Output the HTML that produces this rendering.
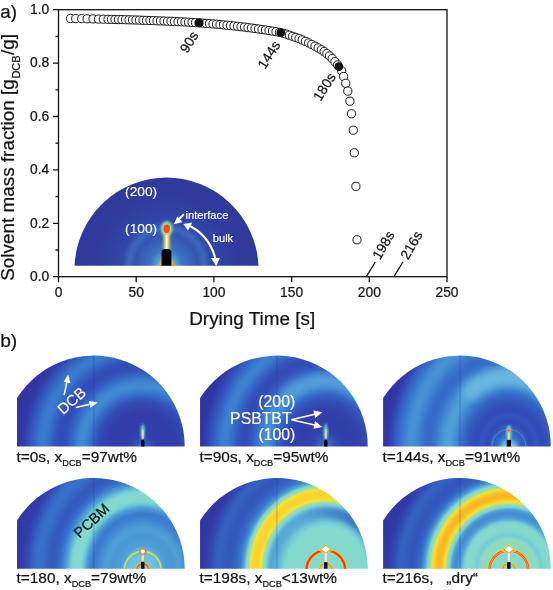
<!DOCTYPE html>
<html><head><meta charset="utf-8"><title>Figure</title>
<style>html,body{margin:0;padding:0;background:#fff}svg{display:block}text{font-family:"Liberation Sans", Arial, Helvetica, sans-serif;stroke:#111;stroke-width:.22px}.w text,text.w{stroke:#fff;stroke-width:.15px}</style>
</head><body>
<svg width="553" height="590" viewBox="0 0 553 590" font-family='"Liberation Sans", Arial, Helvetica, sans-serif' fill="#111"><rect x="58.5" y="9.7" width="388.5" height="267.0" fill="none" stroke="#111" stroke-width="1.3"/>
<text x="49.3" y="281.00" text-anchor="end" font-size="13.8">0.0</text>
<text x="49.3" y="227.60" text-anchor="end" font-size="13.8">0.2</text>
<text x="49.3" y="174.20" text-anchor="end" font-size="13.8">0.4</text>
<text x="49.3" y="120.80" text-anchor="end" font-size="13.8">0.6</text>
<text x="49.3" y="67.40" text-anchor="end" font-size="13.8">0.8</text>
<text x="49.3" y="14.00" text-anchor="end" font-size="13.8">1.0</text>
<text x="58.50" y="296.6" text-anchor="middle" font-size="13.8">0</text>
<text x="136.20" y="296.6" text-anchor="middle" font-size="13.8">50</text>
<text x="213.90" y="296.6" text-anchor="middle" font-size="13.8">100</text>
<text x="291.60" y="296.6" text-anchor="middle" font-size="13.8">150</text>
<text x="369.30" y="296.6" text-anchor="middle" font-size="13.8">200</text>
<text x="447.00" y="296.6" text-anchor="middle" font-size="13.8">250</text>
<path d="M58.5 276.70h-5.5 M58.5 223.30h-5.5 M58.5 169.90h-5.5 M58.5 116.50h-5.5 M58.5 63.10h-5.5 M58.5 9.70h-5.5 M58.5 250.00h-3 M58.5 196.60h-3 M58.5 143.20h-3 M58.5 89.80h-3 M58.5 36.40h-3 M58.50 276.7v5.5 M136.20 276.7v5.5 M213.90 276.7v5.5 M291.60 276.7v5.5 M369.30 276.7v5.5 M447.00 276.7v5.5" stroke="#111" stroke-width="1.3" fill="none"/>
<g fill="#fff" stroke="#1a1a1a" stroke-width="1"><circle cx="70.6" cy="18.5" r="4.1"/><circle cx="75.7" cy="18.6" r="4.1"/><circle cx="81.7" cy="18.7" r="4.1"/><circle cx="87.1" cy="18.8" r="4.1"/><circle cx="93.1" cy="18.9" r="4.1"/><circle cx="98.5" cy="19.1" r="4.1"/><circle cx="103.4" cy="19.2" r="4.1"/><circle cx="108.0" cy="19.3" r="4.1"/><circle cx="111.5" cy="19.4" r="4.1"/><circle cx="115.0" cy="19.5" r="4.1"/><circle cx="118.5" cy="19.6" r="4.1"/><circle cx="122.0" cy="19.6" r="4.1"/><circle cx="125.5" cy="19.7" r="4.1"/><circle cx="129.0" cy="19.8" r="4.1"/><circle cx="132.5" cy="19.9" r="4.1"/><circle cx="136.0" cy="20.0" r="4.1"/><circle cx="139.5" cy="20.1" r="4.1"/><circle cx="143.0" cy="20.3" r="4.1"/><circle cx="146.5" cy="20.4" r="4.1"/><circle cx="150.0" cy="20.5" r="4.1"/><circle cx="153.5" cy="20.6" r="4.1"/><circle cx="157.0" cy="20.8" r="4.1"/><circle cx="160.5" cy="20.9" r="4.1"/><circle cx="164.0" cy="21.0" r="4.1"/><circle cx="167.5" cy="21.2" r="4.1"/><circle cx="171.0" cy="21.3" r="4.1"/><circle cx="174.5" cy="21.5" r="4.1"/><circle cx="178.0" cy="21.7" r="4.1"/><circle cx="181.5" cy="21.8" r="4.1"/><circle cx="185.0" cy="22.0" r="4.1"/><circle cx="188.5" cy="22.2" r="4.1"/><circle cx="192.0" cy="22.4" r="4.1"/><circle cx="195.5" cy="22.6" r="4.1"/><circle cx="199.0" cy="22.8" r="4.1"/><circle cx="202.5" cy="23.1" r="4.1"/><circle cx="206.0" cy="23.3" r="4.1"/><circle cx="209.5" cy="23.6" r="4.1"/><circle cx="213.0" cy="23.9" r="4.1"/><circle cx="216.5" cy="24.2" r="4.1"/><circle cx="220.0" cy="24.5" r="4.1"/><circle cx="223.5" cy="24.9" r="4.1"/><circle cx="227.0" cy="25.2" r="4.1"/><circle cx="230.5" cy="25.6" r="4.1"/><circle cx="234.0" cy="25.9" r="4.1"/><circle cx="237.5" cy="26.3" r="4.1"/><circle cx="241.0" cy="26.7" r="4.1"/><circle cx="244.5" cy="27.1" r="4.1"/><circle cx="248.0" cy="27.6" r="4.1"/><circle cx="251.5" cy="28.0" r="4.1"/><circle cx="255.0" cy="28.5" r="4.1"/><circle cx="258.5" cy="29.0" r="4.1"/><circle cx="262.0" cy="29.5" r="4.1"/><circle cx="265.5" cy="30.0" r="4.1"/><circle cx="269.0" cy="30.5" r="4.1"/><circle cx="272.5" cy="31.1" r="4.1"/><circle cx="276.0" cy="31.7" r="4.1"/><circle cx="279.5" cy="32.4" r="4.1"/><circle cx="283.0" cy="33.2" r="4.1"/><circle cx="286.2" cy="34.1" r="4.1"/><circle cx="289.4" cy="35.2" r="4.1"/><circle cx="292.6" cy="36.3" r="4.1"/><circle cx="295.8" cy="37.4" r="4.1"/><circle cx="299.0" cy="38.6" r="4.1"/><circle cx="302.2" cy="39.9" r="4.1"/><circle cx="305.4" cy="41.3" r="4.1"/><circle cx="308.6" cy="42.9" r="4.1"/><circle cx="311.8" cy="44.5" r="4.1"/><circle cx="315.0" cy="46.2" r="4.1"/><circle cx="318.2" cy="47.9" r="4.1"/><circle cx="321.4" cy="49.8" r="4.1"/><circle cx="324.1" cy="51.6" r="4.1"/><circle cx="326.8" cy="53.6" r="4.1"/><circle cx="329.5" cy="55.9" r="4.1"/><circle cx="332.2" cy="58.6" r="4.1"/><circle cx="334.9" cy="61.7" r="4.1"/><circle cx="337.6" cy="64.9" r="4.1"/><circle cx="341.7" cy="71.0" r="4.1"/><circle cx="343.6" cy="76.5" r="4.1"/><circle cx="345.8" cy="83.3" r="4.1"/><circle cx="347.8" cy="91.1" r="4.1"/><circle cx="349.9" cy="101.2" r="4.1"/><circle cx="351.5" cy="113.8" r="4.1"/><circle cx="353.3" cy="130.2" r="4.1"/><circle cx="354.3" cy="152.8" r="4.1"/><circle cx="355.9" cy="186.4" r="4.1"/><circle cx="357.0" cy="239.8" r="4.1"/></g>
<circle cx="199.2" cy="22.9" r="4.4" fill="#111"/>
<circle cx="280.8" cy="32.7" r="4.4" fill="#111"/>
<circle cx="338.9" cy="66.6" r="4.4" fill="#111"/>
<text transform="translate(187.2,54) rotate(-58)" font-size="13.8" text-anchor="start" fill="#111">90s</text>
<text transform="translate(265,70) rotate(-58)" font-size="13.8" text-anchor="start" fill="#111">144s</text>
<text transform="translate(320.5,102) rotate(-58)" font-size="13.8" text-anchor="start" fill="#111">180s</text>
<text transform="translate(380,260.5) rotate(-60)" font-size="13.8" text-anchor="start" fill="#111">198s</text>
<text transform="translate(408,260.5) rotate(-60)" font-size="13.8" text-anchor="start" fill="#111">216s</text>
<path d="M366.3 276.7L375.3 262M393.9 276.7L402.9 262" stroke="#111" stroke-width="1.3" fill="none"/>
<text x="252.2" y="325.3" text-anchor="middle" font-size="18.9">Drying Time [s]</text>
<text transform="translate(14.0,280.8) rotate(-90)" font-size="18.9">Solvent mass fraction [g<tspan font-size="11" dy="6.4" dx="0.6">DCB</tspan><tspan dy="-6.4" dx="0.3">/g]</tspan></text>
<text x="0.2" y="17.9" font-size="18.8">a)</text>
<text x="0.2" y="346.8" font-size="19.2">b)</text>
<defs><clipPath id="ci"><path d="M74.58 265.7A92.0 92.0 0 0 1 258.42 265.7Z"/></clipPath><filter id="b1" x="-20%" y="-20%" width="140%" height="140%"><feGaussianBlur stdDeviation="1"/></filter><filter id="b2" x="-20%" y="-20%" width="140%" height="140%"><feGaussianBlur stdDeviation="2"/></filter><filter id="b4" x="-30%" y="-30%" width="160%" height="160%"><feGaussianBlur stdDeviation="4"/></filter><filter id="b05" x="-20%" y="-20%" width="140%" height="140%"><feGaussianBlur stdDeviation="0.6"/></filter><radialGradient id="gi" gradientUnits="userSpaceOnUse" cx="166.5" cy="266" r="95"><stop offset="0" stop-color="#a8e4e0"/><stop offset="0.07" stop-color="#5cb4dc"/><stop offset="0.17" stop-color="#3c74c4"/><stop offset="0.33" stop-color="#3454b2"/><stop offset="0.40" stop-color="#3e68bc"/><stop offset="0.47" stop-color="#3148a8"/><stop offset="0.7" stop-color="#303c9e"/><stop offset="1" stop-color="#2e3898"/></radialGradient></defs>
<g clip-path="url(#ci)">
<rect x="70" y="170" width="195" height="100" fill="url(#gi)"/>
<g filter="url(#b1)"><ellipse cx="166.7" cy="229" rx="6" ry="8" fill="#6fd6d0"/><rect x="163.4" y="230" width="6.6" height="20" fill="#8fe08f"/></g>
<g filter="url(#b05)"><ellipse cx="166.7" cy="229" rx="4.2" ry="5.8" fill="#f2c832"/><rect x="164.5" y="231" width="4.4" height="19" fill="#f2c050"/><ellipse cx="166.7" cy="228.8" rx="3.2" ry="4.2" fill="#e8502a"/><rect x="165.7" y="235" width="2" height="15" fill="#fff4e8"/><path d="M158 266l3.2-6.5 1.8 6.5zM175.4 266l-3.2-6.5-1.8 6.5z" fill="#f6a030"/></g>
<path d="M161.6 266V252Q162.2 249 165 248.9H168Q170.8 249 171.4 252V266Z" fill="#05050a"/>
<g class="w" fill="#fff" font-size="13.7"><text x="125.1" y="195.6">(200)</text><text x="125.1" y="233.3">(100)</text></g>
<g class="w" fill="#fff" font-size="11.2"><text x="185.5" y="218.7">interface</text><text x="212.7" y="242">bulk</text></g>
<g stroke="#fff" fill="#fff" stroke-width="2"><path d="M183.9 214.3L178.5 219.5" fill="none"/><path d="M173.7 224.2L177.5 216.6L182.3 222.3Z" stroke="none"/><path d="M190 226A51 51 0 0 1 215.3 258.5" fill="none" stroke-width="2.1"/><path d="M183.3 223.9L192.4 222.6L188 230.4Z" stroke="none"/><path d="M216.3 266L211 258L219.9 258Z" stroke="none"/></g>
</g>
<radialGradient id="rg1" gradientUnits="userSpaceOnUse" cx="0" cy="0" r="150.0" gradientTransform="translate(142.75,446.4) scale(1,1.000)"><stop offset="0.0000" stop-color="#3565c5"/><stop offset="0.0067" stop-color="#3564c4"/><stop offset="0.0133" stop-color="#3563c3"/><stop offset="0.0200" stop-color="#3460c2"/><stop offset="0.0267" stop-color="#345cc0"/><stop offset="0.0333" stop-color="#3358be"/><stop offset="0.0400" stop-color="#3253bc"/><stop offset="0.0467" stop-color="#324fb9"/><stop offset="0.0533" stop-color="#324cb6"/><stop offset="0.0600" stop-color="#3249b4"/><stop offset="0.0667" stop-color="#3246b1"/><stop offset="0.0733" stop-color="#3244b0"/><stop offset="0.0800" stop-color="#3242ae"/><stop offset="0.0867" stop-color="#3241ad"/><stop offset="0.0933" stop-color="#3240ac"/><stop offset="0.1000" stop-color="#323fab"/><stop offset="0.1067" stop-color="#323fab"/><stop offset="0.1133" stop-color="#323eab"/><stop offset="0.1200" stop-color="#323eaa"/><stop offset="0.1267" stop-color="#323eaa"/><stop offset="0.1333" stop-color="#323eaa"/><stop offset="0.1400" stop-color="#323eaa"/><stop offset="0.1467" stop-color="#323eaa"/><stop offset="0.1533" stop-color="#323eaa"/><stop offset="0.1600" stop-color="#323eaa"/><stop offset="0.1667" stop-color="#323eaa"/><stop offset="0.1733" stop-color="#323eaa"/><stop offset="0.1800" stop-color="#323eaa"/><stop offset="0.1867" stop-color="#323eaa"/><stop offset="0.1933" stop-color="#323eaa"/><stop offset="0.2000" stop-color="#323eaa"/><stop offset="0.2067" stop-color="#323eab"/><stop offset="0.2133" stop-color="#323eab"/><stop offset="0.2200" stop-color="#323fab"/><stop offset="0.2267" stop-color="#323fab"/><stop offset="0.2333" stop-color="#3240ac"/><stop offset="0.2400" stop-color="#3240ac"/><stop offset="0.2467" stop-color="#3241ad"/><stop offset="0.2533" stop-color="#3242ae"/><stop offset="0.2600" stop-color="#3243af"/><stop offset="0.2667" stop-color="#3244b0"/><stop offset="0.2733" stop-color="#3246b1"/><stop offset="0.2800" stop-color="#3247b3"/><stop offset="0.2867" stop-color="#3249b4"/><stop offset="0.2933" stop-color="#324cb6"/><stop offset="0.3000" stop-color="#324eb8"/><stop offset="0.3067" stop-color="#3251bb"/><stop offset="0.3133" stop-color="#3355bd"/><stop offset="0.3200" stop-color="#335abf"/><stop offset="0.3267" stop-color="#345ec1"/><stop offset="0.3333" stop-color="#3563c3"/><stop offset="0.3400" stop-color="#3567c6"/><stop offset="0.3467" stop-color="#366cc8"/><stop offset="0.3533" stop-color="#3771ca"/><stop offset="0.3600" stop-color="#3875cc"/><stop offset="0.3667" stop-color="#3a7ace"/><stop offset="0.3733" stop-color="#3d7ecf"/><stop offset="0.3800" stop-color="#3f82d0"/><stop offset="0.3867" stop-color="#4085d0"/><stop offset="0.3933" stop-color="#4287d1"/><stop offset="0.4000" stop-color="#4289d1"/><stop offset="0.4067" stop-color="#4389d2"/><stop offset="0.4133" stop-color="#4289d1"/><stop offset="0.4200" stop-color="#4287d1"/><stop offset="0.4267" stop-color="#4085d0"/><stop offset="0.4333" stop-color="#3f82d0"/><stop offset="0.4400" stop-color="#3d7fcf"/><stop offset="0.4467" stop-color="#3a7ace"/><stop offset="0.4533" stop-color="#3876cc"/><stop offset="0.4600" stop-color="#3771ca"/><stop offset="0.4667" stop-color="#366cc8"/><stop offset="0.4733" stop-color="#3568c6"/><stop offset="0.4800" stop-color="#3563c4"/><stop offset="0.4867" stop-color="#345fc2"/><stop offset="0.4933" stop-color="#345bc0"/><stop offset="0.5000" stop-color="#3357be"/><stop offset="0.5067" stop-color="#3354bc"/><stop offset="0.5133" stop-color="#3251bb"/><stop offset="0.5200" stop-color="#324fb9"/><stop offset="0.5267" stop-color="#324eb8"/><stop offset="0.5333" stop-color="#324db7"/><stop offset="0.5400" stop-color="#324db7"/><stop offset="0.5467" stop-color="#324db7"/><stop offset="0.5533" stop-color="#324db7"/><stop offset="0.5600" stop-color="#324eb8"/><stop offset="0.5667" stop-color="#3250ba"/><stop offset="0.5733" stop-color="#3252bb"/><stop offset="0.5800" stop-color="#3355bc"/><stop offset="0.5867" stop-color="#3358be"/><stop offset="0.5933" stop-color="#345bc0"/><stop offset="0.6000" stop-color="#345fc2"/><stop offset="0.6133" stop-color="#3567c5"/><stop offset="0.6267" stop-color="#366ec9"/><stop offset="0.6400" stop-color="#3775cc"/><stop offset="0.6533" stop-color="#3a79cd"/><stop offset="0.6667" stop-color="#3b7bce"/><stop offset="0.6800" stop-color="#3a79cd"/><stop offset="0.6933" stop-color="#3774cc"/><stop offset="0.7067" stop-color="#366ec9"/><stop offset="0.7200" stop-color="#3566c5"/><stop offset="0.7333" stop-color="#345ec1"/><stop offset="0.7467" stop-color="#3356bd"/><stop offset="0.7600" stop-color="#324eb8"/><stop offset="0.7733" stop-color="#3247b2"/><stop offset="0.7867" stop-color="#3240ac"/><stop offset="0.8000" stop-color="#323ba7"/><stop offset="0.8133" stop-color="#3238a3"/><stop offset="0.8267" stop-color="#3136a1"/><stop offset="0.8400" stop-color="#3136a0"/><stop offset="0.8533" stop-color="#31359f"/><stop offset="0.8667" stop-color="#31359f"/><stop offset="0.8800" stop-color="#31359e"/><stop offset="0.8933" stop-color="#31359e"/><stop offset="0.9067" stop-color="#31359e"/><stop offset="0.9200" stop-color="#31359e"/><stop offset="0.9333" stop-color="#31359e"/><stop offset="0.9467" stop-color="#31359e"/><stop offset="0.9600" stop-color="#31359e"/><stop offset="0.9733" stop-color="#31359e"/><stop offset="0.9867" stop-color="#31359e"/><stop offset="1.0000" stop-color="#31359e"/></radialGradient>
<clipPath id="cp1"><path d="M17.0 446.4L17.0 398.12A90.8 90.8 0 0 1 184.70 446.4Z"/></clipPath>
<g clip-path="url(#cp1)">
<rect x="16.0" y="353.4" width="170.7" height="94" fill="url(#rg1)"/>
<path d="M93.9 351.4V446.4" stroke="#2a3690" stroke-width="0.6" opacity="0.55"/>
<ellipse cx="142.75" cy="431.9" rx="2.1" ry="8" fill="#62cce2" filter="url(#b1)"/><g filter="url(#b05)"><ellipse cx="142.75" cy="433.9" rx="1.1" ry="5" fill="#c8e890"/><ellipse cx="142.75" cy="435.4" rx="0.7" ry="2.6" fill="#f4c8b0"/></g>
<path d="M141.05 446.9V441.79999999999995Q141.05 439.79999999999995 142.75 439.79999999999995Q144.45 439.79999999999995 144.45 441.79999999999995V446.9Z" fill="#05050a"/>
<text transform="translate(62.95,415.2) rotate(-41)" font-size="15.2" fill="#fff" class="w">DCB</text>
<g stroke="#fff" stroke-width="1.5" fill="#fff"><path d="M64.15 395.2L66.95 381.4" fill="none"/><path d="M68.15 374.4L70.45 383.2L63.75 381.79999999999995Z" stroke="none"/><path d="M75.95 407.5L89.75 404.2" fill="none"/><path d="M97.65 402.4L90.45 407.7L88.85 400.9Z" stroke="none"/></g>
</g>
<radialGradient id="rg2" gradientUnits="userSpaceOnUse" cx="0" cy="0" r="150.0" gradientTransform="translate(325.80,446.4) scale(1,1.070)"><stop offset="0.0000" stop-color="#3670ca"/><stop offset="0.0067" stop-color="#366fc9"/><stop offset="0.0133" stop-color="#366dc9"/><stop offset="0.0200" stop-color="#366bc7"/><stop offset="0.0267" stop-color="#3567c6"/><stop offset="0.0333" stop-color="#3563c4"/><stop offset="0.0400" stop-color="#345fc1"/><stop offset="0.0467" stop-color="#335abf"/><stop offset="0.0533" stop-color="#3356bd"/><stop offset="0.0600" stop-color="#3251bb"/><stop offset="0.0667" stop-color="#324eb8"/><stop offset="0.0733" stop-color="#324bb5"/><stop offset="0.0800" stop-color="#3248b3"/><stop offset="0.0867" stop-color="#3246b1"/><stop offset="0.0933" stop-color="#3244b0"/><stop offset="0.1000" stop-color="#3243af"/><stop offset="0.1067" stop-color="#3242ae"/><stop offset="0.1133" stop-color="#3241ad"/><stop offset="0.1200" stop-color="#3240ac"/><stop offset="0.1267" stop-color="#3240ac"/><stop offset="0.1333" stop-color="#323fac"/><stop offset="0.1400" stop-color="#323fab"/><stop offset="0.1467" stop-color="#323fab"/><stop offset="0.1533" stop-color="#323fab"/><stop offset="0.1600" stop-color="#323fab"/><stop offset="0.1667" stop-color="#323fab"/><stop offset="0.1733" stop-color="#323fab"/><stop offset="0.1800" stop-color="#323fab"/><stop offset="0.1867" stop-color="#323fac"/><stop offset="0.1933" stop-color="#3240ac"/><stop offset="0.2000" stop-color="#3240ac"/><stop offset="0.2067" stop-color="#3240ac"/><stop offset="0.2133" stop-color="#3241ad"/><stop offset="0.2200" stop-color="#3241ad"/><stop offset="0.2267" stop-color="#3242ae"/><stop offset="0.2333" stop-color="#3242ae"/><stop offset="0.2400" stop-color="#3243af"/><stop offset="0.2467" stop-color="#3244b0"/><stop offset="0.2533" stop-color="#3246b1"/><stop offset="0.2600" stop-color="#3247b2"/><stop offset="0.2667" stop-color="#3249b4"/><stop offset="0.2733" stop-color="#324bb6"/><stop offset="0.2800" stop-color="#324db7"/><stop offset="0.2867" stop-color="#324fba"/><stop offset="0.2933" stop-color="#3253bb"/><stop offset="0.3000" stop-color="#3357bd"/><stop offset="0.3067" stop-color="#345bbf"/><stop offset="0.3133" stop-color="#345fc2"/><stop offset="0.3200" stop-color="#3564c4"/><stop offset="0.3267" stop-color="#3568c6"/><stop offset="0.3333" stop-color="#366dc8"/><stop offset="0.3400" stop-color="#3772cb"/><stop offset="0.3467" stop-color="#3876cd"/><stop offset="0.3533" stop-color="#3b7cce"/><stop offset="0.3600" stop-color="#3e80cf"/><stop offset="0.3667" stop-color="#4084d0"/><stop offset="0.3733" stop-color="#4288d1"/><stop offset="0.3800" stop-color="#438bd2"/><stop offset="0.3867" stop-color="#448dd2"/><stop offset="0.3933" stop-color="#458ed3"/><stop offset="0.4000" stop-color="#458fd3"/><stop offset="0.4067" stop-color="#458ed3"/><stop offset="0.4133" stop-color="#448dd2"/><stop offset="0.4200" stop-color="#438bd2"/><stop offset="0.4267" stop-color="#4288d1"/><stop offset="0.4333" stop-color="#4084d0"/><stop offset="0.4400" stop-color="#3e80cf"/><stop offset="0.4467" stop-color="#3b7cce"/><stop offset="0.4533" stop-color="#3877cd"/><stop offset="0.4600" stop-color="#3772cb"/><stop offset="0.4667" stop-color="#366dc9"/><stop offset="0.4733" stop-color="#3569c6"/><stop offset="0.4800" stop-color="#3564c4"/><stop offset="0.4867" stop-color="#3460c2"/><stop offset="0.4933" stop-color="#345cc0"/><stop offset="0.5000" stop-color="#3358be"/><stop offset="0.5067" stop-color="#3355bd"/><stop offset="0.5133" stop-color="#3252bb"/><stop offset="0.5200" stop-color="#3250ba"/><stop offset="0.5267" stop-color="#324eb9"/><stop offset="0.5333" stop-color="#324db8"/><stop offset="0.5400" stop-color="#324db7"/><stop offset="0.5467" stop-color="#324db7"/><stop offset="0.5533" stop-color="#324db8"/><stop offset="0.5600" stop-color="#324eb8"/><stop offset="0.5667" stop-color="#324fb9"/><stop offset="0.5733" stop-color="#3251bb"/><stop offset="0.5800" stop-color="#3354bc"/><stop offset="0.5867" stop-color="#3357bd"/><stop offset="0.5933" stop-color="#335abf"/><stop offset="0.6000" stop-color="#345ec1"/><stop offset="0.6133" stop-color="#3566c5"/><stop offset="0.6267" stop-color="#366fc9"/><stop offset="0.6400" stop-color="#3876cd"/><stop offset="0.6533" stop-color="#3c7dce"/><stop offset="0.6667" stop-color="#3e80cf"/><stop offset="0.6800" stop-color="#3e80cf"/><stop offset="0.6933" stop-color="#3c7cce"/><stop offset="0.7067" stop-color="#3876cc"/><stop offset="0.7200" stop-color="#366ec9"/><stop offset="0.7333" stop-color="#3566c5"/><stop offset="0.7467" stop-color="#345dc0"/><stop offset="0.7600" stop-color="#3355bc"/><stop offset="0.7733" stop-color="#324db7"/><stop offset="0.7867" stop-color="#3246b1"/><stop offset="0.8000" stop-color="#3240ac"/><stop offset="0.8133" stop-color="#323aa7"/><stop offset="0.8267" stop-color="#3137a2"/><stop offset="0.8400" stop-color="#3136a0"/><stop offset="0.8533" stop-color="#31369f"/><stop offset="0.8667" stop-color="#31359f"/><stop offset="0.8800" stop-color="#31359e"/><stop offset="0.8933" stop-color="#31359e"/><stop offset="0.9067" stop-color="#31359e"/><stop offset="0.9200" stop-color="#31359e"/><stop offset="0.9333" stop-color="#31359e"/><stop offset="0.9467" stop-color="#31359e"/><stop offset="0.9600" stop-color="#31359e"/><stop offset="0.9733" stop-color="#31359e"/><stop offset="0.9867" stop-color="#31359e"/><stop offset="1.0000" stop-color="#31359e"/></radialGradient>
<clipPath id="cp2"><path d="M200.05 446.4L200.05 398.12A90.8 90.8 0 0 1 367.75 446.4Z"/></clipPath>
<g clip-path="url(#cp2)">
<rect x="199.05" y="353.4" width="170.7" height="94" fill="url(#rg2)"/>
<linearGradient id="og2_62" gradientUnits="userSpaceOnUse" x1="303.8" y1="0" x2="353.8" y2="0"><stop offset="0" stop-color="#6eb4e0" stop-opacity="0"/><stop offset="1" stop-color="#6eb4e0" stop-opacity="1"/></linearGradient>
<path d="M377.8 410.0 L374.0 404.5 L369.7 399.4 L364.8 394.7 L359.4 390.5 L353.5 387.0 L347.2 384.1 L340.7 382.0 L333.9 380.6 L327.0 380.1 L320.0 380.3 L313.2 381.4 L306.5 383.3 L300.1 385.9 L294.1 389.3 L288.6 393.2" fill="none" stroke="#6eb4e0" stroke-width="13" stroke-linecap="round" opacity="0.45" filter="url(#b4)"/>
<path d="M276.95000000000005 351.4V446.4" stroke="#2a3690" stroke-width="0.6" opacity="0.55"/>
<ellipse cx="325.8" cy="431.9" rx="2.1" ry="8" fill="#62cce2" filter="url(#b1)"/><g filter="url(#b05)"><ellipse cx="325.8" cy="433.9" rx="1.1" ry="5" fill="#d8e070"/><ellipse cx="325.8" cy="435.4" rx="0.7" ry="2.6" fill="#f4c8b0"/></g>
<path d="M324.1 446.9V441.79999999999995Q324.1 439.79999999999995 325.8 439.79999999999995Q327.5 439.79999999999995 327.5 441.79999999999995V446.9Z" fill="#05050a"/>
<g class="w" fill="#fff" font-size="15.8"><text x="258.3" y="406.5">(200)</text><text x="230.10000000000002" y="423.59999999999997">PSBTBT</text><text x="258.5" y="439.7">(100)</text></g>
<g stroke="#fff" stroke-width="1.5" fill="#fff"><path d="M315.8 414.0L291.3 419.7L315.8 425.2" fill="none"/><path d="M322.40000000000003 412.2L315.2 418.0L313.40000000000003 410.5Z" stroke="none"/><path d="M322.40000000000003 427.0L313.40000000000003 428.7L315.2 421.2Z" stroke="none"/></g>
</g>
<radialGradient id="rg3" gradientUnits="userSpaceOnUse" cx="0" cy="0" r="150.0" gradientTransform="translate(508.85,446.4) scale(1,1.130)"><stop offset="0.0000" stop-color="#5aadd7"/><stop offset="0.0067" stop-color="#58acd7"/><stop offset="0.0133" stop-color="#55a8d7"/><stop offset="0.0200" stop-color="#50a2d8"/><stop offset="0.0267" stop-color="#4d9dd7"/><stop offset="0.0333" stop-color="#4a96d5"/><stop offset="0.0400" stop-color="#468fd3"/><stop offset="0.0467" stop-color="#4187d1"/><stop offset="0.0533" stop-color="#3d7fcf"/><stop offset="0.0600" stop-color="#3977cd"/><stop offset="0.0667" stop-color="#3670ca"/><stop offset="0.0733" stop-color="#366ac7"/><stop offset="0.0800" stop-color="#3564c4"/><stop offset="0.0867" stop-color="#345fc2"/><stop offset="0.0933" stop-color="#345dc0"/><stop offset="0.1000" stop-color="#345dc0"/><stop offset="0.1067" stop-color="#345fc2"/><stop offset="0.1133" stop-color="#345fc2"/><stop offset="0.1200" stop-color="#335abf"/><stop offset="0.1267" stop-color="#3253bb"/><stop offset="0.1333" stop-color="#324eb8"/><stop offset="0.1400" stop-color="#324cb7"/><stop offset="0.1467" stop-color="#324cb7"/><stop offset="0.1533" stop-color="#324db7"/><stop offset="0.1600" stop-color="#324fb9"/><stop offset="0.1667" stop-color="#3251ba"/><stop offset="0.1733" stop-color="#3253bc"/><stop offset="0.1800" stop-color="#3354bc"/><stop offset="0.1867" stop-color="#3254bc"/><stop offset="0.1933" stop-color="#3252bb"/><stop offset="0.2000" stop-color="#324fb9"/><stop offset="0.2067" stop-color="#324eb8"/><stop offset="0.2133" stop-color="#324db7"/><stop offset="0.2200" stop-color="#324db7"/><stop offset="0.2267" stop-color="#324db8"/><stop offset="0.2333" stop-color="#324eb8"/><stop offset="0.2400" stop-color="#324fb9"/><stop offset="0.2467" stop-color="#3250ba"/><stop offset="0.2533" stop-color="#3252bb"/><stop offset="0.2600" stop-color="#3354bc"/><stop offset="0.2667" stop-color="#3356bd"/><stop offset="0.2733" stop-color="#3359be"/><stop offset="0.2800" stop-color="#345cc0"/><stop offset="0.2867" stop-color="#345fc1"/><stop offset="0.2933" stop-color="#3562c3"/><stop offset="0.3000" stop-color="#3566c5"/><stop offset="0.3067" stop-color="#366ac7"/><stop offset="0.3133" stop-color="#366ec9"/><stop offset="0.3200" stop-color="#3772cb"/><stop offset="0.3267" stop-color="#3876cd"/><stop offset="0.3333" stop-color="#3b7bce"/><stop offset="0.3400" stop-color="#3e80cf"/><stop offset="0.3467" stop-color="#4085d1"/><stop offset="0.3533" stop-color="#438ad2"/><stop offset="0.3600" stop-color="#458ed3"/><stop offset="0.3667" stop-color="#4792d4"/><stop offset="0.3733" stop-color="#4996d5"/><stop offset="0.3800" stop-color="#4b99d6"/><stop offset="0.3867" stop-color="#4c9bd6"/><stop offset="0.3933" stop-color="#4d9dd7"/><stop offset="0.4000" stop-color="#4e9ed7"/><stop offset="0.4067" stop-color="#4e9fd7"/><stop offset="0.4133" stop-color="#4e9ed7"/><stop offset="0.4200" stop-color="#4d9dd7"/><stop offset="0.4267" stop-color="#4d9cd6"/><stop offset="0.4333" stop-color="#4b99d6"/><stop offset="0.4400" stop-color="#4a97d5"/><stop offset="0.4467" stop-color="#4893d4"/><stop offset="0.4533" stop-color="#4690d3"/><stop offset="0.4600" stop-color="#448cd2"/><stop offset="0.4667" stop-color="#4288d1"/><stop offset="0.4733" stop-color="#3f83d0"/><stop offset="0.4800" stop-color="#3d7fcf"/><stop offset="0.4867" stop-color="#3b7bce"/><stop offset="0.4933" stop-color="#3977cd"/><stop offset="0.5000" stop-color="#3774cc"/><stop offset="0.5067" stop-color="#3771cb"/><stop offset="0.5133" stop-color="#366fca"/><stop offset="0.5200" stop-color="#366dc9"/><stop offset="0.5267" stop-color="#366cc8"/><stop offset="0.5333" stop-color="#366cc8"/><stop offset="0.5400" stop-color="#366bc8"/><stop offset="0.5467" stop-color="#366cc8"/><stop offset="0.5533" stop-color="#366dc8"/><stop offset="0.5600" stop-color="#366ec9"/><stop offset="0.5667" stop-color="#3670ca"/><stop offset="0.5733" stop-color="#3773cb"/><stop offset="0.5800" stop-color="#3875cc"/><stop offset="0.5867" stop-color="#3a79cd"/><stop offset="0.5933" stop-color="#3b7cce"/><stop offset="0.6000" stop-color="#3d80cf"/><stop offset="0.6133" stop-color="#4187d1"/><stop offset="0.6267" stop-color="#448cd2"/><stop offset="0.6400" stop-color="#4690d3"/><stop offset="0.6533" stop-color="#4791d4"/><stop offset="0.6667" stop-color="#468fd3"/><stop offset="0.6800" stop-color="#438bd2"/><stop offset="0.6933" stop-color="#4084d0"/><stop offset="0.7067" stop-color="#3b7cce"/><stop offset="0.7200" stop-color="#3773cb"/><stop offset="0.7333" stop-color="#366bc7"/><stop offset="0.7467" stop-color="#3563c4"/><stop offset="0.7600" stop-color="#335abf"/><stop offset="0.7733" stop-color="#324fb9"/><stop offset="0.7867" stop-color="#3246b1"/><stop offset="0.8000" stop-color="#323eaa"/><stop offset="0.8133" stop-color="#3238a5"/><stop offset="0.8267" stop-color="#3136a1"/><stop offset="0.8400" stop-color="#3136a0"/><stop offset="0.8533" stop-color="#31369f"/><stop offset="0.8667" stop-color="#31359f"/><stop offset="0.8800" stop-color="#31359f"/><stop offset="0.8933" stop-color="#31359e"/><stop offset="0.9067" stop-color="#31359e"/><stop offset="0.9200" stop-color="#31359e"/><stop offset="0.9333" stop-color="#31359e"/><stop offset="0.9467" stop-color="#31359e"/><stop offset="0.9600" stop-color="#31359e"/><stop offset="0.9733" stop-color="#31359e"/><stop offset="0.9867" stop-color="#31359e"/><stop offset="1.0000" stop-color="#31359e"/></radialGradient>
<clipPath id="cp3"><path d="M383.1 446.4L383.1 398.12A90.8 90.8 0 0 1 550.80 446.4Z"/></clipPath>
<g clip-path="url(#cp3)">
<rect x="382.1" y="353.4" width="170.7" height="94" fill="url(#rg3)"/>
<linearGradient id="og3_62" gradientUnits="userSpaceOnUse" x1="486.85" y1="0" x2="536.85" y2="0"><stop offset="0" stop-color="#7cc4e6" stop-opacity="0"/><stop offset="1" stop-color="#7cc4e6" stop-opacity="1"/></linearGradient>
<path d="M561.8 409.3 L558.3 403.4 L554.1 397.9 L549.3 392.8 L543.8 388.2 L537.9 384.2 L531.4 381.0 L524.5 378.5 L517.4 377.0 L510.1 376.4 L502.7 376.7 L495.5 377.9 L488.6 380.1 L482.0 383.0 L475.8 386.8 L470.2 391.2" fill="none" stroke="#7cc4e6" stroke-width="18" stroke-linecap="round" opacity="0.65" filter="url(#b4)"/>
<path d="M460.0 351.4V446.4" stroke="#2a3690" stroke-width="0.6" opacity="0.55"/>
<ellipse cx="508.85" cy="445.9" rx="8" ry="4.5" fill="#86dcea" opacity="0.75" filter="url(#b2)"/>
<ellipse cx="508.85" cy="432.9" rx="2.6" ry="8" fill="#6cd4e4" filter="url(#b1)"/><g filter="url(#b05)"><rect x="507.95000000000005" y="431.4" width="1.8" height="9" fill="#f0e070"/><ellipse cx="508.85" cy="430.2" rx="1.9" ry="2.4" fill="#f49a30"/><ellipse cx="508.85" cy="430.2" rx="0.9" ry="1.2" fill="#f06028"/></g>
<rect x="506.70000000000005" y="439.9" width="4.3" height="7" fill="#05050a"/>
<path d="M491.85 446.4A17 17 0 0 1 525.85 446.4" fill="none" stroke="#a8d8f0" stroke-width="0.8" opacity="0.35"/>
</g>
<radialGradient id="rg4" gradientUnits="userSpaceOnUse" cx="0" cy="0" r="150.0" gradientTransform="translate(142.75,568.75) scale(1,1.090)"><stop offset="0.0000" stop-color="#72c8d4"/><stop offset="0.0067" stop-color="#72c8d5"/><stop offset="0.0133" stop-color="#71c8d5"/><stop offset="0.0200" stop-color="#71c7d5"/><stop offset="0.0267" stop-color="#71c7d5"/><stop offset="0.0333" stop-color="#70c7d5"/><stop offset="0.0400" stop-color="#70c6d5"/><stop offset="0.0467" stop-color="#6fc5d5"/><stop offset="0.0533" stop-color="#6fc5d5"/><stop offset="0.0600" stop-color="#6ec4d5"/><stop offset="0.0667" stop-color="#6dc3d5"/><stop offset="0.0733" stop-color="#6cc2d5"/><stop offset="0.0800" stop-color="#6bc1d5"/><stop offset="0.0867" stop-color="#6ac0d5"/><stop offset="0.0933" stop-color="#69bed5"/><stop offset="0.1000" stop-color="#68bdd6"/><stop offset="0.1067" stop-color="#66bad6"/><stop offset="0.1133" stop-color="#62b6d6"/><stop offset="0.1200" stop-color="#5db0d7"/><stop offset="0.1267" stop-color="#57aad7"/><stop offset="0.1333" stop-color="#52a5d8"/><stop offset="0.1400" stop-color="#4fa1d8"/><stop offset="0.1467" stop-color="#4e9ed7"/><stop offset="0.1533" stop-color="#4d9dd7"/><stop offset="0.1600" stop-color="#4d9cd6"/><stop offset="0.1667" stop-color="#4c9bd6"/><stop offset="0.1733" stop-color="#4b9ad6"/><stop offset="0.1800" stop-color="#4b99d6"/><stop offset="0.1867" stop-color="#4b98d5"/><stop offset="0.1933" stop-color="#4a98d5"/><stop offset="0.2000" stop-color="#4a97d5"/><stop offset="0.2067" stop-color="#4b98d5"/><stop offset="0.2133" stop-color="#4b99d6"/><stop offset="0.2200" stop-color="#4c9bd6"/><stop offset="0.2267" stop-color="#4d9dd7"/><stop offset="0.2333" stop-color="#4e9ed7"/><stop offset="0.2400" stop-color="#4e9ed7"/><stop offset="0.2467" stop-color="#4e9ed7"/><stop offset="0.2533" stop-color="#4d9cd6"/><stop offset="0.2600" stop-color="#4b9ad6"/><stop offset="0.2667" stop-color="#4a97d5"/><stop offset="0.2733" stop-color="#4893d4"/><stop offset="0.2800" stop-color="#4690d3"/><stop offset="0.2867" stop-color="#458dd3"/><stop offset="0.2933" stop-color="#4289d1"/><stop offset="0.3000" stop-color="#4085d0"/><stop offset="0.3067" stop-color="#3f82d0"/><stop offset="0.3133" stop-color="#3d80cf"/><stop offset="0.3200" stop-color="#3c7dce"/><stop offset="0.3267" stop-color="#3b7cce"/><stop offset="0.3333" stop-color="#3b7bce"/><stop offset="0.3400" stop-color="#3c7dce"/><stop offset="0.3467" stop-color="#3f83d0"/><stop offset="0.3533" stop-color="#4389d2"/><stop offset="0.3600" stop-color="#4690d3"/><stop offset="0.3667" stop-color="#4a98d5"/><stop offset="0.3733" stop-color="#4fa0d8"/><stop offset="0.3800" stop-color="#59acd7"/><stop offset="0.3867" stop-color="#63b8d6"/><stop offset="0.3933" stop-color="#6cc2d5"/><stop offset="0.4000" stop-color="#74cbd4"/><stop offset="0.4067" stop-color="#7cd3d3"/><stop offset="0.4133" stop-color="#80d8d3"/><stop offset="0.4200" stop-color="#82d8d0"/><stop offset="0.4267" stop-color="#83d9ce"/><stop offset="0.4333" stop-color="#84d9cc"/><stop offset="0.4400" stop-color="#84d9cb"/><stop offset="0.4467" stop-color="#84d9cc"/><stop offset="0.4533" stop-color="#83d9ce"/><stop offset="0.4600" stop-color="#82d8d0"/><stop offset="0.4667" stop-color="#80d8d3"/><stop offset="0.4733" stop-color="#7bd3d3"/><stop offset="0.4800" stop-color="#74cbd4"/><stop offset="0.4867" stop-color="#6cc1d5"/><stop offset="0.4933" stop-color="#63b8d6"/><stop offset="0.5000" stop-color="#5aadd7"/><stop offset="0.5067" stop-color="#50a1d8"/><stop offset="0.5133" stop-color="#4b99d6"/><stop offset="0.5200" stop-color="#4791d3"/><stop offset="0.5267" stop-color="#4289d1"/><stop offset="0.5333" stop-color="#3e81cf"/><stop offset="0.5400" stop-color="#3a7ace"/><stop offset="0.5467" stop-color="#3773cc"/><stop offset="0.5533" stop-color="#366ec9"/><stop offset="0.5600" stop-color="#3669c7"/><stop offset="0.5667" stop-color="#3565c4"/><stop offset="0.5733" stop-color="#3461c3"/><stop offset="0.5800" stop-color="#345ec1"/><stop offset="0.5867" stop-color="#345cc0"/><stop offset="0.5933" stop-color="#345bbf"/><stop offset="0.6000" stop-color="#335abf"/><stop offset="0.6133" stop-color="#3359be"/><stop offset="0.6267" stop-color="#345cc0"/><stop offset="0.6400" stop-color="#3562c3"/><stop offset="0.6533" stop-color="#3567c6"/><stop offset="0.6667" stop-color="#366cc8"/><stop offset="0.6800" stop-color="#366fca"/><stop offset="0.6933" stop-color="#3771ca"/><stop offset="0.7067" stop-color="#366fca"/><stop offset="0.7200" stop-color="#366bc7"/><stop offset="0.7333" stop-color="#3565c4"/><stop offset="0.7467" stop-color="#345cc0"/><stop offset="0.7600" stop-color="#3251ba"/><stop offset="0.7733" stop-color="#3249b4"/><stop offset="0.7867" stop-color="#3243af"/><stop offset="0.8000" stop-color="#323eaa"/><stop offset="0.8133" stop-color="#323ba8"/><stop offset="0.8267" stop-color="#323aa7"/><stop offset="0.8400" stop-color="#323aa7"/><stop offset="0.8533" stop-color="#3239a6"/><stop offset="0.8667" stop-color="#3239a5"/><stop offset="0.8800" stop-color="#3238a5"/><stop offset="0.8933" stop-color="#3238a4"/><stop offset="0.9067" stop-color="#3238a4"/><stop offset="0.9200" stop-color="#3238a3"/><stop offset="0.9333" stop-color="#3137a3"/><stop offset="0.9467" stop-color="#3137a2"/><stop offset="0.9600" stop-color="#3137a2"/><stop offset="0.9733" stop-color="#3137a2"/><stop offset="0.9867" stop-color="#3137a1"/><stop offset="1.0000" stop-color="#3137a1"/></radialGradient>
<clipPath id="cp4"><path d="M17.0 568.75L17.0 520.47A90.8 90.8 0 0 1 184.70 568.75Z"/></clipPath>
<g clip-path="url(#cp4)">
<rect x="16.0" y="475.75" width="170.7" height="94" fill="url(#rg4)"/>
<path d="M93.9 473.75V568.75" stroke="#2a3690" stroke-width="0.6" opacity="0.55"/>
<g filter="url(#b05)"><path d="M124.35 569.75A18.4 18.4 0 0 1 161.15 569.75" fill="none" stroke="#9be08a" stroke-width="2.2" opacity="0.8"/><path d="M124.35 569.75A18.4 18.4 0 0 1 161.15 569.75" fill="none" stroke="#e8e040" stroke-width="0.9" opacity="1"/><path d="M136.75 569.75A6 6 0 0 1 148.75 569.75" fill="none" stroke="#f6c040" stroke-width="3" opacity="1"/><path d="M136.75 569.75A6 6 0 0 1 148.75 569.75" fill="none" stroke="#e8502a" stroke-width="1.4" opacity="1"/><rect x="141.55" y="553.75" width="2.4" height="9" fill="#f8d8b0"/><circle cx="142.75" cy="551.55" r="3.6" fill="#f08030"/><circle cx="142.75" cy="551.55" r="2.1" fill="#fff"/></g>
<rect x="141.05" y="561.75" width="3.4" height="7.5" fill="#0a0a30"/>
<text transform="translate(79.55,538.75) rotate(-43)" font-size="14.6" fill="#111">PCBM</text>
</g>
<radialGradient id="rg5" gradientUnits="userSpaceOnUse" cx="0" cy="0" r="150.0" gradientTransform="translate(325.80,568.75) scale(1,1.060)"><stop offset="0.0000" stop-color="#83d9ce"/><stop offset="0.0067" stop-color="#83d9ce"/><stop offset="0.0133" stop-color="#83d9ce"/><stop offset="0.0200" stop-color="#83d9ce"/><stop offset="0.0267" stop-color="#83d9ce"/><stop offset="0.0333" stop-color="#83d9ce"/><stop offset="0.0400" stop-color="#83d9ce"/><stop offset="0.0467" stop-color="#83d9ce"/><stop offset="0.0533" stop-color="#83d9ce"/><stop offset="0.0600" stop-color="#83d9ce"/><stop offset="0.0667" stop-color="#83d9ce"/><stop offset="0.0733" stop-color="#83d9ce"/><stop offset="0.0800" stop-color="#83d9ce"/><stop offset="0.0867" stop-color="#83d9ce"/><stop offset="0.0933" stop-color="#83d9ce"/><stop offset="0.1000" stop-color="#83d9ce"/><stop offset="0.1067" stop-color="#83d9ce"/><stop offset="0.1133" stop-color="#83d9ce"/><stop offset="0.1200" stop-color="#83d9ce"/><stop offset="0.1267" stop-color="#83d9ce"/><stop offset="0.1333" stop-color="#83d9ce"/><stop offset="0.1400" stop-color="#83d9ce"/><stop offset="0.1467" stop-color="#83d9ce"/><stop offset="0.1533" stop-color="#83d9ce"/><stop offset="0.1600" stop-color="#83d9ce"/><stop offset="0.1667" stop-color="#83d9ce"/><stop offset="0.1733" stop-color="#83d9ce"/><stop offset="0.1800" stop-color="#83d9ce"/><stop offset="0.1867" stop-color="#83d9ce"/><stop offset="0.1933" stop-color="#83d9ce"/><stop offset="0.2000" stop-color="#83d9ce"/><stop offset="0.2067" stop-color="#83d9ce"/><stop offset="0.2133" stop-color="#83d9ce"/><stop offset="0.2200" stop-color="#83d9ce"/><stop offset="0.2267" stop-color="#83d9ce"/><stop offset="0.2333" stop-color="#83d9ce"/><stop offset="0.2400" stop-color="#83d9ce"/><stop offset="0.2467" stop-color="#83d9ce"/><stop offset="0.2533" stop-color="#83d9ce"/><stop offset="0.2600" stop-color="#82d9cf"/><stop offset="0.2667" stop-color="#81d8d2"/><stop offset="0.2733" stop-color="#7ed6d3"/><stop offset="0.2800" stop-color="#7ad1d4"/><stop offset="0.2867" stop-color="#75ccd4"/><stop offset="0.2933" stop-color="#72c8d4"/><stop offset="0.3000" stop-color="#6ec3d5"/><stop offset="0.3067" stop-color="#69bed5"/><stop offset="0.3133" stop-color="#64b9d6"/><stop offset="0.3200" stop-color="#60b4d6"/><stop offset="0.3267" stop-color="#5cafd7"/><stop offset="0.3333" stop-color="#5aadd7"/><stop offset="0.3400" stop-color="#58abd7"/><stop offset="0.3467" stop-color="#57aad7"/><stop offset="0.3533" stop-color="#56a8d7"/><stop offset="0.3600" stop-color="#55a8d7"/><stop offset="0.3667" stop-color="#55a7d8"/><stop offset="0.3733" stop-color="#58abd7"/><stop offset="0.3800" stop-color="#5fb3d6"/><stop offset="0.3867" stop-color="#68bdd6"/><stop offset="0.3933" stop-color="#72c8d4"/><stop offset="0.4000" stop-color="#7ed6d3"/><stop offset="0.4067" stop-color="#87dac6"/><stop offset="0.4133" stop-color="#91ddb4"/><stop offset="0.4200" stop-color="#aadf92"/><stop offset="0.4267" stop-color="#d2e262"/><stop offset="0.4333" stop-color="#f0e43e"/><stop offset="0.4400" stop-color="#f5dc35"/><stop offset="0.4467" stop-color="#f8d72f"/><stop offset="0.4533" stop-color="#f9d42d"/><stop offset="0.4600" stop-color="#fbd22b"/><stop offset="0.4667" stop-color="#fbd22a"/><stop offset="0.4733" stop-color="#fbd22a"/><stop offset="0.4800" stop-color="#fad42c"/><stop offset="0.4867" stop-color="#f8d62f"/><stop offset="0.4933" stop-color="#f6da33"/><stop offset="0.5000" stop-color="#f1e23c"/><stop offset="0.5067" stop-color="#d9e25a"/><stop offset="0.5133" stop-color="#b0e08b"/><stop offset="0.5200" stop-color="#92ddb2"/><stop offset="0.5267" stop-color="#87dac7"/><stop offset="0.5333" stop-color="#78cfd4"/><stop offset="0.5400" stop-color="#63b7d6"/><stop offset="0.5467" stop-color="#50a2d8"/><stop offset="0.5533" stop-color="#4996d5"/><stop offset="0.5600" stop-color="#438ad2"/><stop offset="0.5667" stop-color="#3d80cf"/><stop offset="0.5733" stop-color="#3978cd"/><stop offset="0.5800" stop-color="#3772cb"/><stop offset="0.5867" stop-color="#366dc8"/><stop offset="0.5933" stop-color="#3569c6"/><stop offset="0.6000" stop-color="#3565c5"/><stop offset="0.6133" stop-color="#345fc2"/><stop offset="0.6267" stop-color="#335abf"/><stop offset="0.6400" stop-color="#3357bd"/><stop offset="0.6533" stop-color="#3356bd"/><stop offset="0.6667" stop-color="#3358be"/><stop offset="0.6800" stop-color="#335bbf"/><stop offset="0.6933" stop-color="#345dc1"/><stop offset="0.7067" stop-color="#3460c2"/><stop offset="0.7200" stop-color="#3462c3"/><stop offset="0.7333" stop-color="#345ec1"/><stop offset="0.7467" stop-color="#3357bd"/><stop offset="0.7600" stop-color="#324fb9"/><stop offset="0.7733" stop-color="#3248b3"/><stop offset="0.7867" stop-color="#3242ae"/><stop offset="0.8000" stop-color="#323daa"/><stop offset="0.8133" stop-color="#3239a6"/><stop offset="0.8267" stop-color="#3238a3"/><stop offset="0.8400" stop-color="#3238a3"/><stop offset="0.8533" stop-color="#3137a3"/><stop offset="0.8667" stop-color="#3137a2"/><stop offset="0.8800" stop-color="#3137a2"/><stop offset="0.8933" stop-color="#3137a2"/><stop offset="0.9067" stop-color="#3137a2"/><stop offset="0.9200" stop-color="#3137a2"/><stop offset="0.9333" stop-color="#3137a1"/><stop offset="0.9467" stop-color="#3137a1"/><stop offset="0.9600" stop-color="#3137a1"/><stop offset="0.9733" stop-color="#3137a1"/><stop offset="0.9867" stop-color="#3136a1"/><stop offset="1.0000" stop-color="#3136a1"/></radialGradient>
<clipPath id="cp5"><path d="M200.05 568.75L200.05 520.47A90.8 90.8 0 0 1 367.75 568.75Z"/></clipPath>
<g clip-path="url(#cp5)">
<rect x="199.05" y="475.75" width="170.7" height="94" fill="url(#rg5)"/>
<linearGradient id="og5_53" gradientUnits="userSpaceOnUse" x1="303.8" y1="0" x2="353.8" y2="0"><stop offset="0" stop-color="#3468c0" stop-opacity="0"/><stop offset="1" stop-color="#3468c0" stop-opacity="1"/></linearGradient>
<path d="M378.3 561.4 L377.4 555.9 L376.0 550.5 L374.0 545.2 L371.5 540.2 L368.5 535.4 L365.0 530.9 L361.1 526.7 L356.7 523.0 L351.8 519.8 L346.7 517.1 L341.2 515.0 L335.5 513.5 L329.7 512.7 L323.8 512.6 L318.0 513.2 L312.3 514.4 L306.7 516.3 L301.4 518.8" fill="none" stroke="url(#og5_53)" stroke-width="10" stroke-linecap="round" opacity="0.8" filter="url(#b2)"/>
<path d="M276.95000000000005 473.75V568.75" stroke="#2a3690" stroke-width="0.6" opacity="0.55"/>
<g filter="url(#b05)"><path d="M306.5 569.75A19.3 19.3 0 0 1 345.1 569.75" fill="none" stroke="#b8e060" stroke-width="4.6" opacity="1"/><path d="M306.5 569.75A19.3 19.3 0 0 1 345.1 569.75" fill="none" stroke="#f8c030" stroke-width="3.3" opacity="1"/><path d="M306.5 569.75A19.3 19.3 0 0 1 345.1 569.75" fill="none" stroke="#ec5c2c" stroke-width="2.5" opacity="1"/><path d="M306.5 569.75A19.3 19.3 0 0 1 345.1 569.75" fill="none" stroke="#de3a28" stroke-width="1.3" opacity="1"/><path d="M319.5 569.75A6.3 6.3 0 0 1 332.1 569.75" fill="none" stroke="#b8e060" stroke-width="3.2" opacity="1"/><path d="M319.5 569.75A6.3 6.3 0 0 1 332.1 569.75" fill="none" stroke="#f6c040" stroke-width="2.0" opacity="1"/><path d="M319.5 569.75A6.3 6.3 0 0 1 332.1 569.75" fill="none" stroke="#ee7a2a" stroke-width="0.9" opacity="1"/><path d="M318.8 550.15Q323.3 548.25 325.8 544.25Q328.3 548.25 332.8 550.15Q328.3 551.75 325.8 554.25Q323.3 551.75 318.8 550.15Z" fill="#f0902c" stroke="#c8e060" stroke-width="0.9"/><rect x="324.6" y="552.75" width="2.4" height="10" fill="#f8e0d0"/><path d="M322.0 549.45L325.8 546.45L329.6 549.45L325.8 552.15Z" fill="#fff" stroke="#fff" stroke-width="0.8" stroke-linejoin="round"/></g>
<rect x="324.1" y="562.15" width="3.4" height="7" fill="#0a0a38"/>
</g>
<radialGradient id="rg6" gradientUnits="userSpaceOnUse" cx="0" cy="0" r="150.0" gradientTransform="translate(508.85,568.75) scale(1,1.040)"><stop offset="0.0000" stop-color="#85dac9"/><stop offset="0.0067" stop-color="#85dac9"/><stop offset="0.0133" stop-color="#85dac9"/><stop offset="0.0200" stop-color="#85dac9"/><stop offset="0.0267" stop-color="#85dac9"/><stop offset="0.0333" stop-color="#85dac9"/><stop offset="0.0400" stop-color="#85dac9"/><stop offset="0.0467" stop-color="#85dac9"/><stop offset="0.0533" stop-color="#85dac9"/><stop offset="0.0600" stop-color="#85dac9"/><stop offset="0.0667" stop-color="#85dac9"/><stop offset="0.0733" stop-color="#85dac9"/><stop offset="0.0800" stop-color="#85dac9"/><stop offset="0.0867" stop-color="#85dac9"/><stop offset="0.0933" stop-color="#85dac9"/><stop offset="0.1000" stop-color="#85dac9"/><stop offset="0.1067" stop-color="#85dac9"/><stop offset="0.1133" stop-color="#85dac9"/><stop offset="0.1200" stop-color="#86dac7"/><stop offset="0.1267" stop-color="#88dac3"/><stop offset="0.1333" stop-color="#8bdbbf"/><stop offset="0.1400" stop-color="#8ddcbb"/><stop offset="0.1467" stop-color="#8edcb9"/><stop offset="0.1533" stop-color="#8ddbbb"/><stop offset="0.1600" stop-color="#8adbc0"/><stop offset="0.1667" stop-color="#89dac3"/><stop offset="0.1733" stop-color="#8bdbbe"/><stop offset="0.1800" stop-color="#93ddaf"/><stop offset="0.1867" stop-color="#8adbc0"/><stop offset="0.1933" stop-color="#83d9cd"/><stop offset="0.2000" stop-color="#7ed5d3"/><stop offset="0.2067" stop-color="#78cfd4"/><stop offset="0.2133" stop-color="#76cdd4"/><stop offset="0.2200" stop-color="#77ced4"/><stop offset="0.2267" stop-color="#7ad1d4"/><stop offset="0.2333" stop-color="#7dd5d3"/><stop offset="0.2400" stop-color="#80d8d3"/><stop offset="0.2467" stop-color="#81d8d0"/><stop offset="0.2533" stop-color="#83d9ce"/><stop offset="0.2600" stop-color="#84d9cb"/><stop offset="0.2667" stop-color="#85d9c9"/><stop offset="0.2733" stop-color="#85dac9"/><stop offset="0.2800" stop-color="#84d9cb"/><stop offset="0.2867" stop-color="#82d9cf"/><stop offset="0.2933" stop-color="#7dd5d3"/><stop offset="0.3000" stop-color="#76cdd4"/><stop offset="0.3067" stop-color="#6dc3d5"/><stop offset="0.3133" stop-color="#61b6d6"/><stop offset="0.3200" stop-color="#55a8d7"/><stop offset="0.3267" stop-color="#4e9ed7"/><stop offset="0.3333" stop-color="#4b98d6"/><stop offset="0.3400" stop-color="#4893d4"/><stop offset="0.3467" stop-color="#458ed3"/><stop offset="0.3533" stop-color="#448dd2"/><stop offset="0.3600" stop-color="#468fd3"/><stop offset="0.3667" stop-color="#4894d4"/><stop offset="0.3733" stop-color="#4c9bd6"/><stop offset="0.3800" stop-color="#52a4d8"/><stop offset="0.3867" stop-color="#63b8d6"/><stop offset="0.3933" stop-color="#76cdd4"/><stop offset="0.4000" stop-color="#84d9cc"/><stop offset="0.4067" stop-color="#8edcb9"/><stop offset="0.4133" stop-color="#a4df99"/><stop offset="0.4200" stop-color="#d0e264"/><stop offset="0.4267" stop-color="#f2e13b"/><stop offset="0.4333" stop-color="#f8d72f"/><stop offset="0.4400" stop-color="#fccf28"/><stop offset="0.4467" stop-color="#fbc326"/><stop offset="0.4533" stop-color="#fbbc25"/><stop offset="0.4600" stop-color="#fbb525"/><stop offset="0.4667" stop-color="#fbb224"/><stop offset="0.4733" stop-color="#fbb424"/><stop offset="0.4800" stop-color="#fbb925"/><stop offset="0.4867" stop-color="#fbbf26"/><stop offset="0.4933" stop-color="#fcc927"/><stop offset="0.5000" stop-color="#fad32c"/><stop offset="0.5067" stop-color="#f4dd36"/><stop offset="0.5133" stop-color="#e0e352"/><stop offset="0.5200" stop-color="#b9e080"/><stop offset="0.5267" stop-color="#95deac"/><stop offset="0.5333" stop-color="#8bdbbf"/><stop offset="0.5400" stop-color="#81d8d1"/><stop offset="0.5467" stop-color="#71c7d5"/><stop offset="0.5533" stop-color="#61b5d6"/><stop offset="0.5600" stop-color="#50a2d8"/><stop offset="0.5667" stop-color="#4995d5"/><stop offset="0.5733" stop-color="#4288d1"/><stop offset="0.5800" stop-color="#3c7cce"/><stop offset="0.5867" stop-color="#3773cc"/><stop offset="0.5933" stop-color="#366cc8"/><stop offset="0.6000" stop-color="#3566c5"/><stop offset="0.6133" stop-color="#345fc1"/><stop offset="0.6267" stop-color="#335abf"/><stop offset="0.6400" stop-color="#3356bd"/><stop offset="0.6533" stop-color="#3356bd"/><stop offset="0.6667" stop-color="#3358be"/><stop offset="0.6800" stop-color="#335bbf"/><stop offset="0.6933" stop-color="#345dc1"/><stop offset="0.7067" stop-color="#3460c2"/><stop offset="0.7200" stop-color="#3462c3"/><stop offset="0.7333" stop-color="#345ec1"/><stop offset="0.7467" stop-color="#3357bd"/><stop offset="0.7600" stop-color="#324fb9"/><stop offset="0.7733" stop-color="#3248b3"/><stop offset="0.7867" stop-color="#3242ae"/><stop offset="0.8000" stop-color="#323daa"/><stop offset="0.8133" stop-color="#3239a6"/><stop offset="0.8267" stop-color="#3238a3"/><stop offset="0.8400" stop-color="#3238a3"/><stop offset="0.8533" stop-color="#3137a3"/><stop offset="0.8667" stop-color="#3137a2"/><stop offset="0.8800" stop-color="#3137a2"/><stop offset="0.8933" stop-color="#3137a2"/><stop offset="0.9067" stop-color="#3137a2"/><stop offset="0.9200" stop-color="#3137a2"/><stop offset="0.9333" stop-color="#3137a1"/><stop offset="0.9467" stop-color="#3137a1"/><stop offset="0.9600" stop-color="#3137a1"/><stop offset="0.9733" stop-color="#3137a1"/><stop offset="0.9867" stop-color="#3136a1"/><stop offset="1.0000" stop-color="#3136a1"/></radialGradient>
<clipPath id="cp6"><path d="M383.1 568.75L383.1 520.47A90.8 90.8 0 0 1 550.80 568.75Z"/></clipPath>
<g clip-path="url(#cp6)">
<rect x="382.1" y="475.75" width="170.7" height="94" fill="url(#rg6)"/>
<path d="M460.0 473.75V568.75" stroke="#2a3690" stroke-width="0.6" opacity="0.55"/>
<g filter="url(#b05)"><path d="M489.55 569.75A19.3 19.3 0 0 1 528.15 569.75" fill="none" stroke="#b8e060" stroke-width="4.6" opacity="1"/><path d="M489.55 569.75A19.3 19.3 0 0 1 528.15 569.75" fill="none" stroke="#f8c030" stroke-width="3.3" opacity="1"/><path d="M489.55 569.75A19.3 19.3 0 0 1 528.15 569.75" fill="none" stroke="#ec5c2c" stroke-width="2.5" opacity="1"/><path d="M489.55 569.75A19.3 19.3 0 0 1 528.15 569.75" fill="none" stroke="#de3a28" stroke-width="1.3" opacity="1"/><path d="M489.55 569.75A19.3 19.3 0 0 1 528.15 569.75" fill="none" stroke="#ffe8dc" stroke-width="0.6" opacity="1"/><path d="M502.55 569.75A6.3 6.3 0 0 1 515.15 569.75" fill="none" stroke="#b8e060" stroke-width="3.2" opacity="1"/><path d="M502.55 569.75A6.3 6.3 0 0 1 515.15 569.75" fill="none" stroke="#f6c040" stroke-width="2.0" opacity="1"/><path d="M502.55 569.75A6.3 6.3 0 0 1 515.15 569.75" fill="none" stroke="#ee7a2a" stroke-width="0.9" opacity="1"/><path d="M501.85 550.15Q506.35 548.25 508.85 544.25Q511.35 548.25 515.85 550.15Q511.35 551.75 508.85 554.25Q506.35 551.75 501.85 550.15Z" fill="#f0902c" stroke="#c8e060" stroke-width="0.9"/><rect x="507.65000000000003" y="552.75" width="2.4" height="10" fill="#f8e0d0"/><path d="M505.05 549.45L508.85 546.45L512.65 549.45L508.85 552.15Z" fill="#fff" stroke="#fff" stroke-width="0.8" stroke-linejoin="round"/></g>
<rect x="507.15000000000003" y="562.15" width="3.4" height="7" fill="#0a0a38"/>
</g>
<text x="16.5" y="461.8" font-size="15.4">t=0s, x<tspan font-size="9.2" dy="3.8">DCB</tspan><tspan dy="-3.8">=97wt%</tspan></text>
<text x="199.5" y="461.8" font-size="15.4">t=90s, x<tspan font-size="9.2" dy="3.8">DCB</tspan><tspan dy="-3.8">=95wt%</tspan></text>
<text x="382.6" y="461.8" font-size="15.4">t=144s, x<tspan font-size="9.2" dy="3.8">DCB</tspan><tspan dy="-3.8">=91wt%</tspan></text>
<text x="16.5" y="583.4" font-size="15.4">t=180, x<tspan font-size="9.2" dy="3.8">DCB</tspan><tspan dy="-3.8">=79wt%</tspan></text>
<text x="199.5" y="583.4" font-size="15.4">t=198s, x<tspan font-size="9.2" dy="3.8">DCB</tspan><tspan dy="-3.8">&lt;13wt%</tspan></text>
<text x="382.6" y="583.4" font-size="15.4" xml:space="preserve">t=216s,   „dry“</text></svg>
</body></html>
